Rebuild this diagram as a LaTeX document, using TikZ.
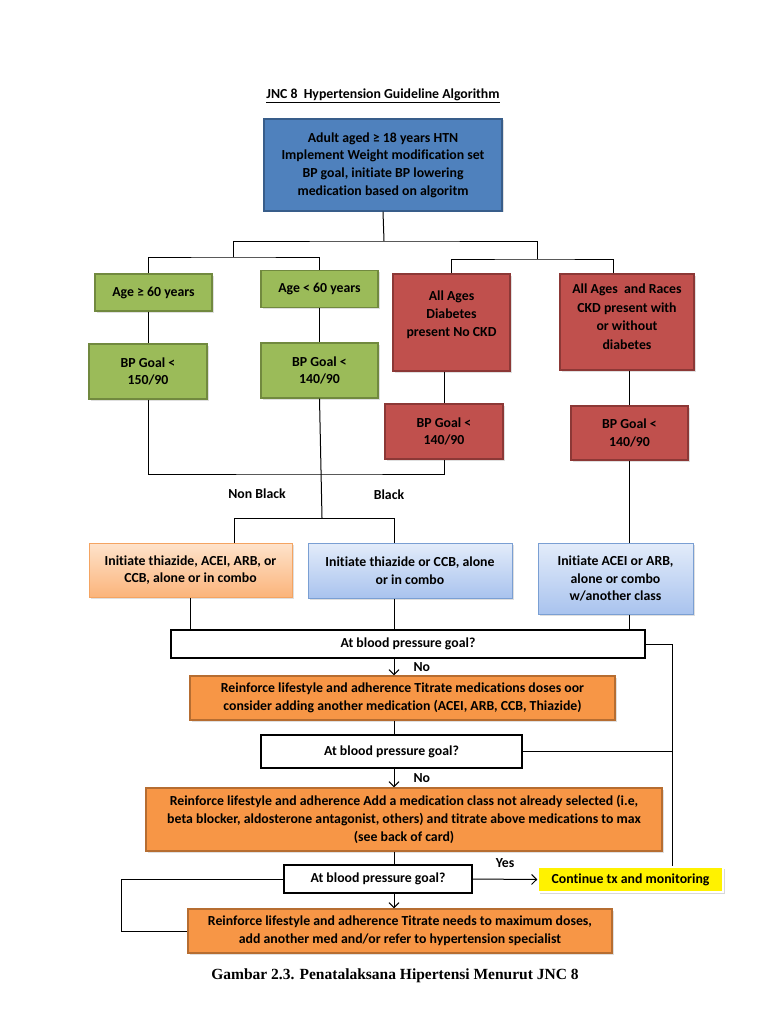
\documentclass[tikz,border=0pt]{standalone}
\usepackage{fontspec}
\setmainfont{Carlito}[RawFeature={-liga}]
\newfontfamily\capfont{Liberation Serif}
\usetikzlibrary{arrows.meta,shadows}

\definecolor{blueFill}{HTML}{4F81BD}
\definecolor{blueLine}{HTML}{385D8A}
\definecolor{greenFill}{HTML}{9BBB59}
\definecolor{greenLine}{HTML}{71893F}
\definecolor{redFill}{HTML}{C0504D}
\definecolor{redLine}{HTML}{8C3836}
\definecolor{orangeFill}{HTML}{F79646}
\definecolor{orangeLine}{HTML}{B66D31}
\definecolor{peachTop}{HTML}{FEE3CB}
\definecolor{peachBot}{HTML}{FBB47B}
\definecolor{peachLine}{HTML}{F4A462}
\definecolor{skyTop}{HTML}{E3ECFA}
\definecolor{skyBot}{HTML}{A9C3EE}
\definecolor{skyLine}{HTML}{7A9FD3}

\begin{document}
\begin{tikzpicture}[x=1pt, y=-1pt,
	every node/.style={font=\fontsize{13.8}{17.6}\selectfont\bfseries, align=center, inner sep=0pt},
	dims/.style 2 args={minimum width=#1pt, minimum height=#2pt},
	shade/.style={drop shadow={opacity=0.25, shadow xshift=1.5pt, shadow yshift=-1.5pt}},
	bluebox/.style={shade, draw=blueLine, fill=blueFill, line width=1.3pt},
	greenbox/.style={shade, draw=greenLine, fill=greenFill, line width=1.3pt},
	redbox/.style={shade, draw=redLine, fill=redFill, line width=1.3pt},
	orangebox/.style={shade, draw=orangeLine, fill=orangeFill, line width=1.3pt},
	peachbox/.style={shade, draw=peachLine, top color=peachTop, bottom color=peachBot, line width=1pt},
	skybox/.style={shade, draw=skyLine, top color=skyTop, bottom color=skyBot, line width=1pt},
	goalbox/.style={draw, fill=white, line width=2pt},
	arr/.style={-{Straight Barb[length=5pt, width=10pt]}},
	line width=1pt]

	% page
	\fill[white] (0,0) rectangle (768,1024);
	\useasboundingbox (0,0) rectangle (768,1024);

	% Title
	\node (title) at (383,96) {\underline{JNC 8\ \ Hypertension Guideline Algorithm}};

	% Start
	\node[bluebox, dims={238}{92}] (adult) at (383,165) {Adult aged ≥ 18 years HTN\\Implement Weight modification set\\BP goal, initiate BP lowering\\medication based on algoritm};

	% Groups
	\node[greenbox, dims={117}{37}] (ageA) at (153.5,292.5) {Age ≥ 60 years};
	\node[greenbox, dims={117}{37}] (ageB) at (319.5,289) {Age < 60 years};
	\node[redbox, dims={117}{97}] (diab) at (451.5,322.5) {All Ages\\Diabetes\\present No CKD\\};
	\node[redbox, dims={134}{96}, font=\fontsize{13.8}{18.8}\selectfont\bfseries] (ckd) at (627,322) {All Ages\ \ and Races\\CKD present with\\or without\\diabetes\\[-8pt]};

	% Goals
	\node[greenbox, dims={118}{55}] (bpA) at (148,371.5) {BP Goal <\\150/90};
	\node[greenbox, dims={117}{55}] (bpB) at (319.5,370.5) {BP Goal <\\140/90};
	\node[redbox, dims={118}{55}] (bpC) at (444,431.5) {BP Goal <\\140/90};
	\node[redbox, dims={117}{54}] (bpD) at (629.5,433) {BP Goal <\\140/90};

	% Initial drugs
	\node[peachbox, dims={203}{54}] (initA) at (190.5,570) {Initiate thiazide, ACEI, ARB, or\\CCB, alone or in combo};
	\node[skybox, dims={204}{55}] (initB) at (410,570.5) {Initiate thiazide or CCB, alone\\or in combo};
	\node[skybox, dims={155}{71}] (initC) at (615.5,578.5) {Initiate ACEI or ARB,\\alone or combo\\w/another class};

	% Follow-up
	\node[goalbox, dims={474}{28}] (goal1) at (408,644) {At blood pressure goal?};
	\node[orangebox, dims={425}{44}] (orange2) at (402.5,698) {Reinforce lifestyle and adherence Titrate medications doses oor\\consider adding another medication (ACEI, ARB, CCB, Thiazide)};
	\node[goalbox, dims={261}{33}] (goal2) at (391.5,751.5) {At blood pressure goal?};
	\node[orangebox, dims={516}{63}] (orange3) at (404,819.5) {Reinforce lifestyle and adherence Add a medication class not already selected (i.e,\\beta blocker, aldosterone antagonist, others) and titrate above medications to max\\(see back of card)};
	\node[goalbox, dims={188}{28}] (goal3) at (378,879) {At blood pressure goal?};
	\node[draw=white, fill=yellow, line width=1.5pt, drop shadow={opacity=0.3, shadow xshift=1.5pt, shadow yshift=-2pt}, dims={185}{25}] (cont) at (630.5,879.5) {Continue tx and monitoring};
	\node[orangebox, dims={424}{44}] (orange4) at (400,931) {Reinforce lifestyle and adherence Titrate needs to maximum doses,\\add another med and/or refer to hypertension specialist};

	% Caption
	\node[font=\capfont\bfseries\fontsize{15.5}{18}\selectfont] (caption) at (395,976) {Gambar 2.3. Penatalaksana Hipertensi Menurut JNC 8};

	% Junctions
	\coordinate (bar) at (384,241);
	\coordinate (jl) at (233,257);
	\coordinate (jr) at (537,259);
	\coordinate (merge) at (322,474);
	\coordinate (race) at (322,518);
	\coordinate (nonblack) at (234,518);
	\coordinate (black) at (394,518);
	\coordinate (spine) at (394,0);
	\coordinate (rloop) at (672,0);
	\coordinate (lloop) at (121,0);

	% Split by group
	\draw (adult.south) -- (bar);
	\draw (jl) |- (bar) -| (jr);
	\draw (ageA.north -| bpA) |- (jl) -| (ageB.north);
	\draw (diab.north) |- (jr) -| ([xshift=-14pt]ckd.north);

	% Group to goal
	\draw (ageA.south -| bpA) -- (bpA.north);
	\draw (ageB.south) -- (bpB.north);
	\draw (diab.south -| bpC) -- (bpC.north);
	\draw (ckd.south -| bpD) -- (bpD.north);

	% Goal to drugs
	\draw (bpA.south) |- (merge) -| (bpC.south);
	\draw (bpB.south) -- (race);
	\draw (initA.north -| nonblack) |- (black) -- (black |- initB.north);
	\node (nbl) at (257,494) {Non Black};
	\node (bl) at (389,495) {Black};
	\draw (bpD.south) -- (bpD.south |- initC.north);

	% Drugs to first check
	\draw (initA.south) -- (initA.south |- goal1.north);
	\draw (initB.south -| black) -- (black |- goal1.north);
	\draw (initC.south -| bpD) -- (bpD |- goal1.north);

	% Main column
	\draw[arr] (goal1.south -| spine) -- (orange2.north -| spine) node[midway, right=19pt] (no1) {No};
	\draw (orange2.south -| spine) -- (goal2.north -| spine);
	\draw[arr] (goal2.south -| spine) -- (orange3.north -| spine) node[midway, right=19pt] (no2) {No};
	\draw (orange3.south -| spine) -- (goal3.north -| spine);
	\draw[arr] (goal3.south -| spine) -- (orange4.north -| spine);
	\draw[arr] (goal3.east) -- (cont.west) node[midway, above=11pt] (yes) {Yes};

	% Loops
	\draw (goal1.east) -| (rloop |- cont.north);
	\draw (goal2.east) -- (goal2.east -| rloop);
	\draw (goal3.west) -| (lloop |- orange4.west) -- (orange4.west);
\end{tikzpicture}
\end{document}
